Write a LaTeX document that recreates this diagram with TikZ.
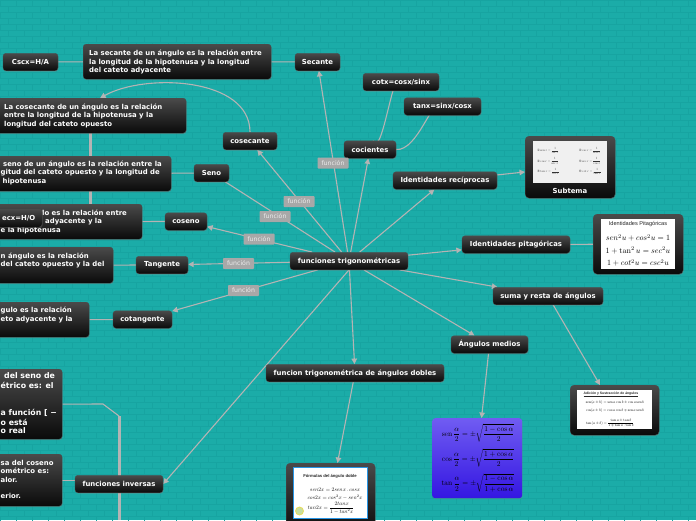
\documentclass[tikz,border=0pt]{standalone}
\usepackage{amsmath}
\usepackage{fontspec}
\newfontfamily\dvs{DejaVu Sans}
\newfontfamily\lsans{Liberation Sans}
\usetikzlibrary{arrows.meta,shadows,calc}
\pgfdeclarelayer{back}
\pgfdeclarelayer{lines}
\pgfsetlayers{back,lines,main}
\definecolor{bgteal}{RGB}{27,172,168}
\definecolor{brickcol}{RGB}{23,164,161}
\definecolor{conncol}{RGB}{180,180,180}
\definecolor{nodetop}{RGB}{74,74,74}
\definecolor{nodebot}{RGB}{10,10,10}
\definecolor{lblgray}{RGB}{168,168,168}
\definecolor{bluetop}{RGB}{112,92,242}
\definecolor{bluebot}{RGB}{52,22,226}
\definecolor{dblue}{RGB}{40,150,230}
\definecolor{circfill}{RGB}{200,222,160}
\definecolor{circedge}{RGB}{232,220,90}
\tikzset{
  darkbox/.style={rounded corners=3pt, top color=nodetop, bottom color=nodebot, draw=black!70, line width=0.3pt,
    drop shadow={opacity=0.3, shadow xshift=0.5pt, shadow yshift=-1pt}},
  dnode/.style={darkbox, text=white, font=\dvs\bfseries\fontsize{6.9}{8.5}\selectfont, inner xsep=2pt, inner ysep=0pt, minimum height=17.5pt},
  framebox/.style={darkbox, anchor=north west, inner sep=0pt},
  dtext/.style={text=white, font=\dvs\bfseries\fontsize{6.9}{8.5}\selectfont, align=left, inner sep=0pt, anchor=west},
  lbl/.style={fill=lblgray, text=white!92!black, font=\dvs\fontsize{6.2}{7}\selectfont, minimum width=31pt, minimum height=11pt, inner sep=0.5pt, rounded corners=0.8pt},
  conn/.style={draw=conncol, line width=1.1pt},
  arr/.style={conn, -{Triangle[length=5.5pt,width=5.5pt]}},
  thickconn/.style={draw=conncol, line width=3pt},
  imgwhite/.style={fill=white, inner sep=0pt, anchor=north west},
  formula/.style={inner sep=0pt, text=black},
  brickline/.style={draw=brickcol, line width=0.45pt},
  bluebox/.style={rounded corners=3pt, top color=bluetop, bottom color=bluebot, anchor=north west, inner sep=0pt,
    drop shadow={opacity=0.3, shadow xshift=0.5pt, shadow yshift=-1pt}},
}
\begin{document}
\begin{tikzpicture}[x=1pt,y=-1pt]
\useasboundingbox (0,0) rectangle (696,520);
\begin{pgfonlayer}{back}
\fill[bgteal] (0,0) rectangle (696,520);
\foreach \r in {0,...,87} {
  \pgfmathsetmacro\yy{\r*6}
  \pgfmathsetmacro\off{mod(\r,2)*8}
  \draw[brickline] (0,\yy) -- (696,\yy)
    \foreach \c in {0,...,44} { ({\c*16+\off},\yy) -- ++(0,6) };
}
\end{pgfonlayer}

% ---- description boxes (left) ----
\node[framebox, minimum width=188pt, minimum height=35pt] (secd) at (83,44) {};
\node[dtext] (secdT) at (89,62.5) {\strut La secante de un ángulo es la relación entre\\\strut la longitud de la hipotenusa y la longitud\\\strut del cateto adyacente};
\node[dnode, minimum width=55pt] (cscx) at (30.5,62) {Cscx=H/A};
\node[dnode, minimum width=45pt] (secante) at (317.5,62) {Secante};

\node[framebox, minimum width=196pt, minimum height=35pt] (cscd) at (-10,98) {};
\node[dtext] (cscdT) at (4,116) {\strut La cosecante de un ángulo es la relación\\\strut entre la longitud de la hipotenusa y la\\\strut longitud del cateto opuesto};
\node[dnode, minimum width=54pt] (cosec) at (250,141) {cosecante};

\node[framebox, minimum width=181pt, minimum height=35pt] (senod) at (-10,156) {};
\node[dtext] (senodT) at (0.5,173) {\strut\hspace*{2.5pt}seno de un ángulo es la relación entre la\\\strut gitud del cateto opuesto y la longitud de\\\strut\hspace*{2pt}hipotenusa};
\node[dnode, minimum width=35pt] (seno) at (211.5,173) {Seno};

\node[framebox, minimum width=152pt, minimum height=35pt] (cosd) at (-10,204) {};
\node[dtext] (cosdT) at (0.5,222) {\strut\hspace*{41.5pt}lo es la relación entre\\\strut\hspace*{44.5pt}adyacente y la\\\strut e la hipotenusa};
\node[framebox, minimum width=62pt, minimum height=18pt] (secx) at (-20,209) {};
\node[dtext] (secxT) at (2,218) {ecx=H/O};
\node[dnode, minimum width=42pt] (coseno) at (186,221.5) {coseno};

\node[framebox, minimum width=123pt, minimum height=36pt] (tand) at (-10,247) {};
\node[dtext] (tandT) at (0.5,265) {\strut n ángulo es la relación\\\strut del cateto opuesto y la del\\\strut};
\node[dnode, minimum width=52pt] (tang) at (162,265) {Tangente};

\node[framebox, minimum width=99pt, minimum height=35pt] (cotd) at (-10,302) {};
\node[dtext] (cotdT) at (0.5,319.5) {\strut gulo es la relación\\\strut eto adyacente y la\\\strut};
\node[dnode, minimum width=59pt] (cotang) at (142.5,319.5) {cotangente};

\node[framebox, minimum width=72pt, minimum height=70pt] (invsind) at (-10,369) {};
\node[dtext, font=\dvs\bfseries\fontsize{7.8}{8.5}\selectfont] (invsindT) at (0.5,404.5) {\strut\hspace*{3.5pt}del seno de\\\strut étrico es: el\\\strut\\\strut\\\strut a función [ −\\\strut o está\\\strut o real};
\node[framebox, minimum width=72pt, minimum height=52pt] (invcosd) at (-10,454) {};
\node[dtext, font=\dvs\bfseries\fontsize{6.9}{8.3}\selectfont] (invcosdT) at (0.5,480.5) {\strut sa del coseno\\\strut ométrico es:\\\strut alor.\\\strut\\\strut erior.};
\node[dnode, minimum width=88pt] (inv) at (119,484) {funciones inversas};

% ---- central and right nodes ----
\node[dnode, minimum width=118pt] (trig) at (349,261) {funciones trigonométricas};
\node[dnode, minimum width=52pt] (coc) at (370,149.5) {cocientes};
\node[dnode, minimum width=76pt] (cotx) at (401,82) {cotx=cosx/sinx};
\node[dnode, minimum width=77pt] (tanx) at (442.5,106.5) {tanx=sinx/cosx};
\node[dnode, minimum width=104pt] (recip) at (445,180.5) {Identidades recíprocas};
\node[dnode, minimum width=108pt] (pitag) at (516,244.5) {Identidades pitagóricas};
\node[dnode, minimum width=110pt] (suma) at (548,296) {suma y resta de ángulos};
\node[dnode, minimum width=77pt] (medios) at (489.5,344.5) {Ángulos medios};
\node[dnode, minimum width=178pt] (dobles) at (355,373) {funcion trigonométrica de ángulos dobles};

% ---- Subtema image ----
\node[framebox, minimum width=90pt, minimum height=62pt, rounded corners=4pt] (subt) at (525,136) {};
\node[imgwhite, fill=gray!12, minimum width=74pt, minimum height=42pt] (subimg) at (533,141) {};
\node[formula, text=black!80] (subf) at (569,161) {\scalebox{0.32}{%
\begin{tabular}{@{}l@{}l@{}}
\makebox[131pt][l]{{\dvs ①}\,$\mathrm{sen}\,x=\dfrac{1}{\csc x}$} & {\dvs ④}\,$\csc x=\dfrac{1}{\mathrm{sen}\,x}$\\[16pt]
\makebox[131pt][l]{{\dvs ②}\,$\cos x=\dfrac{1}{\sec x}$} & {\dvs ⑤}\,$\sec x=\dfrac{1}{\cos x}$\\[16pt]
\makebox[131pt][l]{{\dvs ③}\,$\tan x=\dfrac{1}{\cot x}$} & {\dvs ⑥}\,$\cot x=\dfrac{1}{\tan x}$
\end{tabular}}};
\node[text=white, font=\dvs\bfseries\fontsize{6.9}{8.5}\selectfont, inner sep=0pt] (subl) at (570,190.5) {Subtema};

% ---- Pythagorean image ----
\node[framebox, minimum width=90pt, minimum height=60pt, rounded corners=4pt] (pyth) at (593,214) {};
\node[imgwhite, minimum width=74pt, minimum height=50pt] (pythimg) at (601,219) {};
\node[font=\lsans\fontsize{5.6}{6}\selectfont, inner sep=0pt, text=black!85] (pytht) at (638,224.5) {Identidades Pitagóricas};
\node[formula] (pyth1) at (638,238) {\scalebox{0.8}{$sen^2u+cos^2u=1$}};
\node[formula] (pyth2) at (638,250.5) {\scalebox{0.8}{$1+\tan^2u=sec^2u$}};
\node[formula] (pyth3) at (638,263) {\scalebox{0.8}{$1+cot^2u=csc^2u$}};

% ---- Sum/difference image ----
\node[framebox, minimum width=89pt, minimum height=50pt, rounded corners=4pt] (addb) at (570,385) {};
\node[imgwhite, minimum width=75pt, minimum height=39pt] (addimg) at (577,390) {};
\node[font=\lsans\bfseries\fontsize{3.4}{4}\selectfont, inner sep=0pt, text=black!85] (addt) at (611,394) {\underline{Adición y Sustracción de ángulos}};
\node[formula] (add1) at (615,403) {\scalebox{0.38}{$\mathrm{sen}(a\pm b)=\mathrm{sen}\,a\cos b\pm\cos a\,\mathrm{sen}\,b$}};
\node[formula] (add2) at (615,411) {\scalebox{0.38}{$\cos(a\pm b)=\cos a\cos b\mp\mathrm{sen}\,a\,\mathrm{sen}\,b$}};
\node[formula] (add3) at (610,423) {\scalebox{0.38}{$\tan(a\pm b)=\dfrac{\tan a\pm\tan b}{1\mp\tan a\cdot\tan b}$}};

% ---- Half angle (blue) ----
\node[bluebox, minimum width=90pt, minimum height=80pt] (blue) at (432,418) {};
\node[formula] (b1) at (478,433) {\scalebox{0.75}{$\displaystyle \mathrm{sen}\,\frac{\alpha}{2}=\pm\sqrt{\frac{1-\cos\alpha}{2}}$}};
\node[formula] (b2) at (478,458) {\scalebox{0.75}{$\displaystyle \cos\frac{\alpha}{2}=\pm\sqrt{\frac{1+\cos\alpha}{2}}$}};
\node[formula] (b3) at (478,483) {\scalebox{0.75}{$\displaystyle \tan\frac{\alpha}{2}=\pm\sqrt{\frac{1-\cos\alpha}{1+\cos\alpha}}$}};

% ---- Double angle image ----
\node[framebox, minimum width=89pt, minimum height=70pt, rounded corners=4pt] (dblb) at (286,463) {};
\node[imgwhite, draw=dblue, line width=0.9pt, minimum width=74pt, minimum height=51pt] (dblimg) at (293,467) {};
\node[font=\lsans\bfseries\fontsize{4.2}{5}\selectfont, inner sep=0pt, text=black!85] (dblt) at (330,476) {Fórmulas del ángulo doble};
\node[formula] (dbl1) at (335,490) {\scalebox{0.55}{$sen2x = 2senx\,.\,cosx$}};
\node[formula] (dbl2) at (335,497.5) {\scalebox{0.55}{$cos2x = cos^2x - sen^2x$}};
\node[formula] (dbl3) at (331,508) {\scalebox{0.55}{$tan2x = \dfrac{2tanx}{1-tan^2x}$}};
\node[circle, fill=circfill, draw=circedge, line width=0.8pt, minimum size=8pt, inner sep=0pt] (dcirc) at (299.5,511) {};

% ---- labels ----
\node[lbl] (f1) at (333,163) {función};
\node[lbl] (f2) at (299,201.5) {función};
\node[lbl] (f3) at (275,216.5) {función};
\node[lbl] (f4) at (259,239) {función};
\node[lbl] (f5) at (238.5,263.5) {función};
\node[lbl] (f6) at (243.5,290.5) {función};

\coordinate (va) at (90,0);
\coordinate (k1) at (103,404);
\coordinate (k2) at (119,416);
\coordinate (k3) at (119,520);

% ---- connectors ----
\begin{pgfonlayer}{lines}
\draw[conn] (cscx) -- (secd);
\draw[conn] (secd) -- (secante);
\draw[conn] (senod) -- (seno);
\draw[conn] (cosd) -- (coseno);
\draw[conn] (tand) -- (tang);
\draw[conn] (cotd) -- (cotang);
\draw[thickconn] (cscd.south -| va) -- (cosd.north -| va);
\draw[conn] (invsind.east) -- (k1) -- (k2);
\draw[thickconn] (k2) -- (k3);
\draw[conn] (invcosd.east) -- (invcosd.east -| inv.west);
\draw[arr] (trig) -- (secante);
\draw[arr] (trig) -- (cosec);
\draw[conn] (trig) -- (seno);
\draw[arr] (trig) -- (coseno);
\draw[arr] (trig) -- (tang);
\draw[arr] (trig) -- (cotang);
\draw[arr] (trig) -- (coc);
\draw[arr] (trig) -- (recip);
\draw[arr] (trig) -- (pitag);
\draw[arr] (trig) -- (suma);
\draw[arr] (trig) -- (medios);
\draw[arr] (trig) -- (dobles);
\draw[arr] (trig.south) -- (inv.east);
\draw[arr] ([xshift=3pt]coc.north) to[out=-68,in=105] ([xshift=-2pt]cotx.south);
\draw[arr] (coc.east) to[out=-5,in=110] ([xshift=-2pt]tanx.south);
\draw[arr] (cosec.north) .. controls +(0,-55) and +(45,-25) .. ([xshift=12pt]cscd.north);
\draw[arr] (recip) -- (subt);
\draw[conn] (pitag) -- (pyth);
\draw[arr] (suma) -- (addb);
\draw[arr] (medios) -- (blue);
\draw[arr] (dobles) -- (dblb);
\end{pgfonlayer}
\end{tikzpicture}
\end{document}
